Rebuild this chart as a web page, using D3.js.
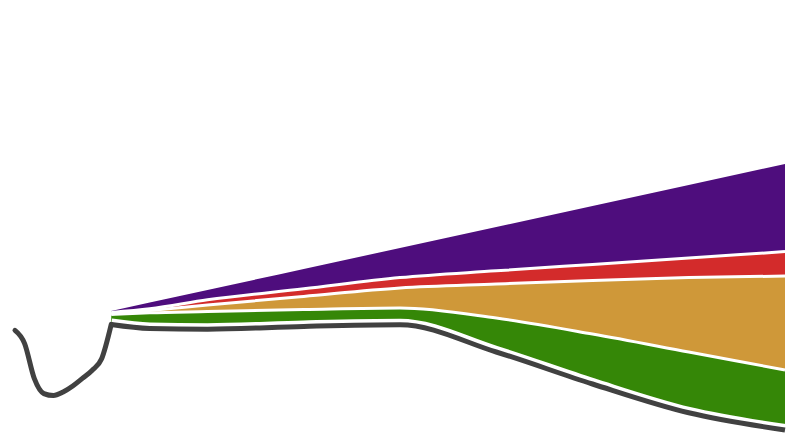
<!DOCTYPE html>
<html>
<head>
<meta charset="utf-8">
<script src="https://cdn.jsdelivr.net/npm/d3@7"></script>
<style>
  html, body { margin: 0; padding: 0; background: #ffffff; }
  svg { display: block; }
</style>
</head>
<body>
<svg id="chart" width="800" height="440"></svg>
<script>
// ---- Data ----
const histYears  = [2010, 2010.5, 2011, 2011.5, 2012, 2012.5, 2013, 2013.5, 2014, 2014.5, 2015];
const histValues = [27.4, 24.1, 15.4, 11.6, 11.1, 12.0, 13.5, 15.4, 17.4, 20.3, 28.9];

const years       = [2015, 2017, 2020, 2025, 2030, 2035, 2040, 2045, 2050];
const baseline    = [28.9, 27.9, 27.7, 28.4, 28.8, 22.0, 14.0, 6.8, 2.5];
const greenVals   = [2.5, 3.9, 4.4, 4.2, 4.2, 8.5, 12.5, 15.2, 15.0];
const orangeVals  = [0.2, 0.6, 1.65, 3.3, 5.0, 8.5, 13.4, 18.6, 23.5];
const redVals     = [0.3, 0.4, 1.3, 1.9, 2.6, 3.3, 4.0, 4.9, 6.1];
const purpleVals  = [0.35, 1.55, 2.45, 4.95, 7.4, 10.95, 14.6, 18.25, 21.9];

const keys   = ["base", "green", "orange", "red", "purple"];
const colors = { green: "#358707", orange: "#cf9839", red: "#d32b2b", purple: "#4e0d7d" };

// ---- Build table ----
const table = years.map((yr, i) => ({
  year: yr, base: baseline[i], green: greenVals[i], orange: orangeVals[i],
  red: redVals[i], purple: purpleVals[i]
}));
const hist = histYears.map((yr, i) => ({ year: yr, value: histValues[i] }));

// ---- Scales ----
const x = d3.scaleLinear().domain([2010, 2050]).range([15, 785]);
const y = d3.scaleLinear().domain([0, 110]).range([440, 0]);

const svg = d3.select("#chart");
const curve = d3.curveMonotoneX;

const series = d3.stack().keys(keys)(table);

const area = d3.area()
  .x(d => x(d.data.year))
  .y0(d => y(d[0]))
  .y1(d => y(d[1]))
  .curve(curve);

// areas (skip base layer)
svg.append("g").selectAll("path")
  .data(series.filter(s => s.key !== "base"))
  .join("path")
  .attr("d", area)
  .attr("fill", s => colors[s.key]);

// white separators between bands
const topLine = d3.line()
  .x(d => x(d.data.year))
  .y(d => y(d[1]))
  .curve(curve);

svg.append("g").selectAll("path")
  .data(series.filter(s => s.key === "green" || s.key === "orange" || s.key === "red"))
  .join("path")
  .attr("d", topLine)
  .attr("fill", "none")
  .attr("stroke", "#ffffff")
  .attr("stroke-width", 3);

// forecast dark line with white halo
const baseLine = d3.line()
  .x(d => x(d.year))
  .y(d => y(d.base))
  .curve(curve);

svg.append("path")
  .datum(table)
  .attr("d", baseLine)
  .attr("fill", "none")
  .attr("stroke", "#ffffff")
  .attr("stroke-width", 12);

svg.append("path")
  .datum(table)
  .attr("d", baseLine)
  .attr("fill", "none")
  .attr("stroke", "#414141")
  .attr("stroke-width", 5)
  .attr("stroke-linejoin", "round");

// historical line
const histLine = d3.line()
  .x(d => x(d.year))
  .y(d => y(d.value))
  .curve(curve);

svg.append("path")
  .datum(hist)
  .attr("d", histLine)
  .attr("fill", "none")
  .attr("stroke", "#414141")
  .attr("stroke-width", 5)
  .attr("stroke-linecap", "round")
  .attr("stroke-linejoin", "round");
</script>
</body>
</html>
